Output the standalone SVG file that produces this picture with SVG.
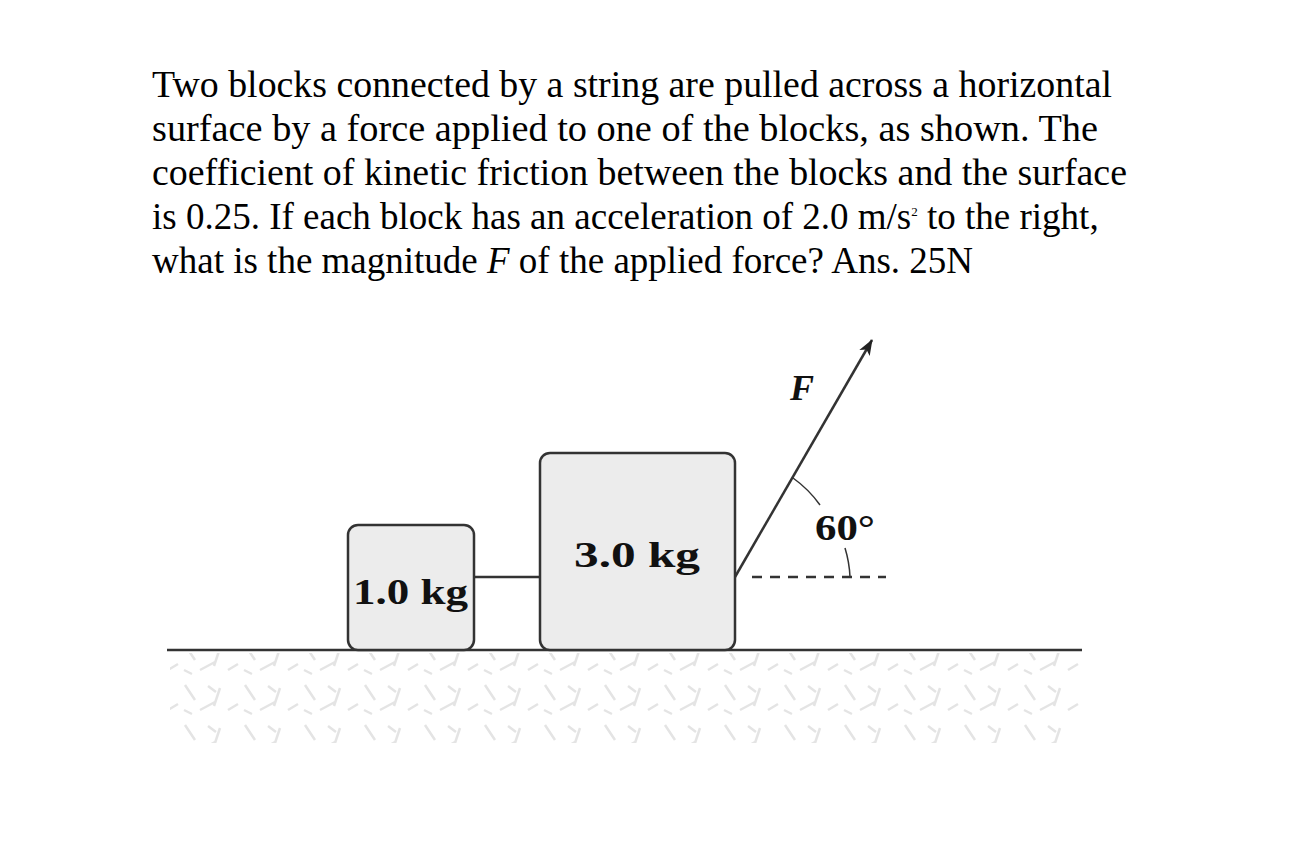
<svg xmlns="http://www.w3.org/2000/svg" width="1290" height="853" viewBox="0 0 1290 853">
<style>
.q{font-family:"Liberation Serif",serif;font-size:37px;fill:#000}
.b{fill:#ececec;stroke:#333;stroke-width:2.5}
.l{font-family:"Liberation Serif",serif;font-size:36px;font-weight:bold;fill:#111}
</style>
<defs>
<marker id="ah" markerWidth="16" markerHeight="14" refX="15" refY="7" orient="auto" markerUnits="userSpaceOnUse"><path d="M0,1 L16,7 L0,13 L4,7 Z" fill="#222"/></marker>
<pattern id="tex" width="60" height="40" patternUnits="userSpaceOnUse">
<path d="M5,5 l10,15 M20,30 l15,-8 M40,8 l-6,18 M48,30 l10,-6 M12,34 l-8,-4 M28,6 l8,6" stroke="#e4e4e4" stroke-width="2.5" fill="none"/>
</pattern>
</defs>
<rect width="1290" height="853" fill="#fff"/>
<g id="question">
<text class="q" x="152" y="97" textLength="960" lengthAdjust="spacingAndGlyphs">Two blocks connected by a string are pulled across a horizontal</text>
<text class="q" x="152" y="141" textLength="946" lengthAdjust="spacingAndGlyphs">surface by a force applied to one of the blocks, as shown. The</text>
<text class="q" x="152" y="185" textLength="975" lengthAdjust="spacingAndGlyphs">coefficient of kinetic friction between the blocks and the surface</text>
<text class="q" x="152" y="229">is 0.25. If each block has an acceleration of 2.0 m/s<tspan font-size="13" dy="-13">2</tspan><tspan dy="13"> to the right,</tspan></text>
<text class="q" x="152" y="273">what is the magnitude <tspan font-style="italic">F</tspan> of the applied force? Ans. 25N</text>
</g>
<g id="ground">
<rect x="170" y="653" width="910" height="90" fill="url(#tex)"/>
<line x1="167" y1="650" x2="1082" y2="650" stroke="#333" stroke-width="2.5"/>
</g>
<g id="connectors">
<line x1="474" y1="577" x2="540" y2="577" stroke="#333" stroke-width="2.5"/>
<line x1="735" y1="577" x2="872" y2="340" stroke="#333" stroke-width="2.5" marker-end="url(#ah)"/>
<line x1="752" y1="577" x2="886" y2="577" stroke="#333" stroke-width="2.5" stroke-dasharray="10,8"/>
<path d="M793,478 A115,115 0 0 1 820,505" fill="none" stroke="#333" stroke-width="1.5"/>
<path d="M845,548 A115,115 0 0 1 850,577" fill="none" stroke="#333" stroke-width="1.5"/>
</g>
<g id="block1">
<rect class="b" x="348" y="525" width="126" height="125" rx="10"/>
<text class="l" x="353" y="604" textLength="115" lengthAdjust="spacingAndGlyphs">1.0 kg</text>
</g>
<g id="block3">
<rect class="b" x="540" y="453" width="195" height="197" rx="10"/>
<text class="l" x="574" y="567" textLength="126" lengthAdjust="spacingAndGlyphs">3.0 kg</text>
</g>
<g id="labels">
<text class="l" x="790" y="400" font-style="italic">F</text>
<text class="l" x="815" y="540" font-weight="normal" textLength="60" lengthAdjust="spacingAndGlyphs">60°</text>
</g>
</svg>
